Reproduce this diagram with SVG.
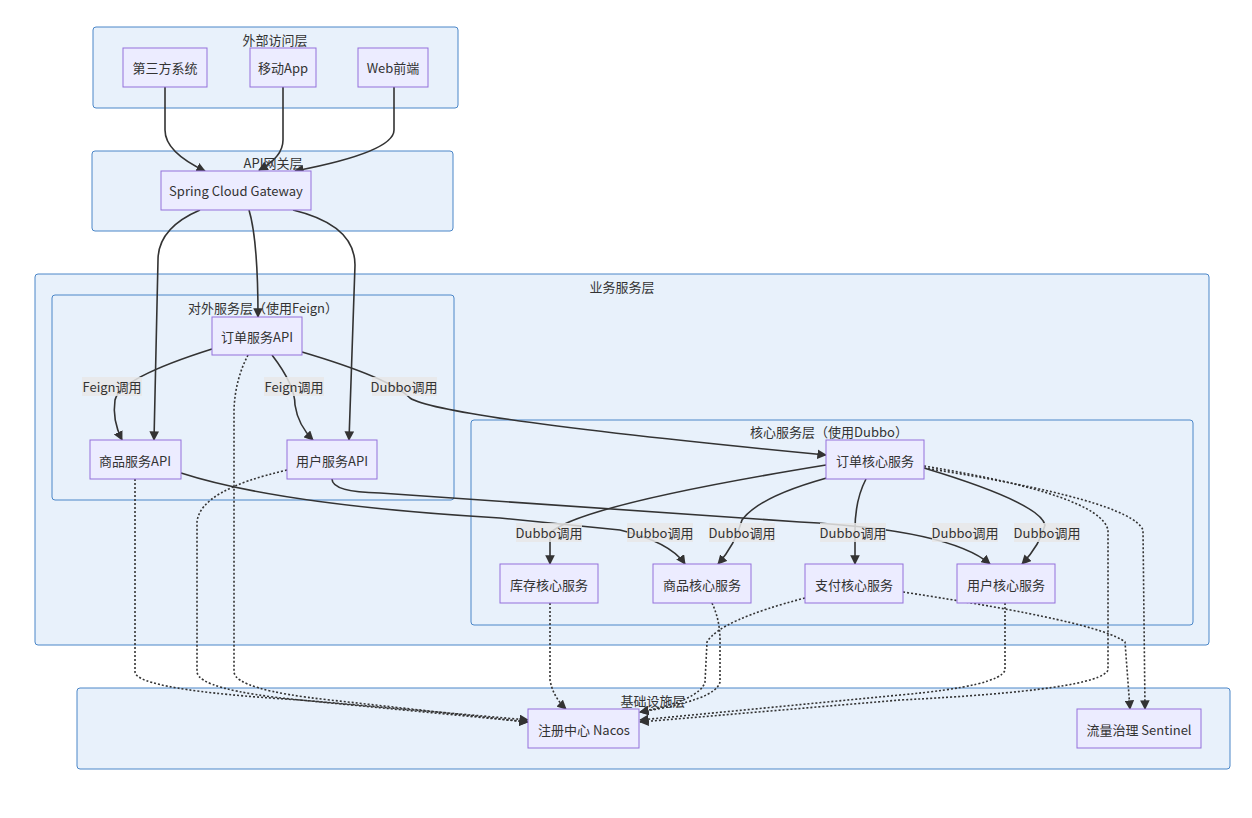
<svg xmlns="http://www.w3.org/2000/svg" width="1252" height="818" viewBox="0 0 1252 818">
<style>
.c{fill:#e8f1fb;stroke:#4a86c8;stroke-width:1}
.n{fill:#ececff;stroke:#9370db;stroke-width:1}
text{font-family:"Noto Sans CJK SC","Liberation Sans",sans-serif;font-size:13px;fill:#333;text-anchor:middle;dominant-baseline:central}
.e{fill:none;stroke:#333;stroke-width:1.6;marker-end:url(#a)}
.d{fill:none;stroke:#333;stroke-width:1.6;stroke-dasharray:2 2;marker-end:url(#a)}
.lb{fill:#e8e8e8;opacity:0.85}
</style>
<defs><marker id="a" viewBox="0 0 10 10" refX="9" refY="5" markerWidth="6" markerHeight="6" orient="auto"><path d="M0,0L10,5L0,10z" fill="#333"/></marker></defs>
<rect width="1252" height="818" fill="#fff"/>
<g id="clusters">
<rect class="c" x="93" y="27" width="365" height="81" rx="3"/><text x="275" y="39">外部访问层</text>
<rect class="c" x="92" y="151" width="361" height="80" rx="3"/><text x="273" y="162">API网关层</text>
<rect class="c" x="35" y="274" width="1174" height="371" rx="3"/><text x="622" y="286">业务服务层</text>
<rect class="c" x="52" y="295" width="402" height="205" rx="3"/><text x="263" y="307">对外服务层（使用Feign）</text>
<rect class="c" x="471" y="420" width="722" height="205" rx="3"/><text x="829" y="431">核心服务层（使用Dubbo）</text>
<rect class="c" x="77" y="688" width="1153" height="81" rx="3"/><text x="653" y="700">基础设施层</text>
</g>
<g id="connectors">
<path class="e" d="M165,87 L165,130 Q165,152 205,171"/>
<path class="e" d="M283,87 L283,140 Q283,157 259,170"/>
<path class="e" d="M394,87 L394,130 Q394,152 295,171"/>
<path class="e" d="M200,210 Q158,228 158,260 L154,440"/>
<path class="e" d="M249,210 Q258,240 258,317"/>
<path class="e" d="M293,210 Q355,225 355,265 L349,440"/>
<path class="e" d="M212,349 Q120,378 115,400 Q112,420 122,440"/>
<path class="e" d="M272,355 Q295,385 295,405 Q298,425 313,440"/>
<path class="e" d="M302,352 Q390,378 410,398 Q440,418 826,455"/>
<path class="e" d="M181,473 Q280,505 500,518 L620,530 Q670,542 685,564"/>
<path class="e" d="M332,479 Q332,492 380,493 L800,522 Q950,530 990,564"/>
<path class="e" d="M826,465 Q580,505 550,533 L550,564"/>
<path class="e" d="M838,475 Q760,495 742,520 Q735,545 718,564"/>
<path class="e" d="M866,479 Q855,500 855,530 L855,564"/>
<path class="e" d="M924,468 Q1040,503 1045,525 Q1040,545 1022,564"/>
<path class="d" d="M135,479 L135,672 Q137,690 300,700 L528,720"/>
<path class="d" d="M287,470 Q200,490 197,522 L197,672 Q199,690 300,700 L528,722"/>
<path class="d" d="M248,355 Q235,380 234,410 L234,672 Q236,690 330,700 L528,722"/>
<path class="d" d="M550,603 L550,680 Q553,697 566,709"/>
<path class="d" d="M712,603 Q720,620 720,640 L720,682 Q716,700 640,712"/>
<path class="d" d="M805,598 Q720,620 707,642 L705,682 Q700,700 640,712"/>
<path class="d" d="M1005,603 L1005,670 Q1000,686 900,695 L640,720"/>
<path class="d" d="M924,466 Q1100,495 1108,530 L1108,670 Q1100,690 900,700 L640,722"/>
<path class="d" d="M924,468 Q1130,500 1143,530 L1145,709"/>
<path class="d" d="M903,592 Q1100,622 1125,642 L1130,709"/>
</g>
<g id="labels">
<rect class="lb" x="82" y="377" width="60" height="19"/><text x="112" y="386">Feign调用</text>
<rect class="lb" x="264" y="377" width="60" height="19"/><text x="294" y="386">Feign调用</text>
<rect class="lb" x="372" y="377" width="65" height="19"/><text x="404" y="386">Dubbo调用</text>
<rect class="lb" x="516" y="523" width="66" height="19"/><text x="549" y="532">Dubbo调用</text>
<rect class="lb" x="627" y="523" width="66" height="19"/><text x="660" y="532">Dubbo调用</text>
<rect class="lb" x="709" y="523" width="66" height="19"/><text x="742" y="532">Dubbo调用</text>
<rect class="lb" x="820" y="523" width="66" height="19"/><text x="853" y="532">Dubbo调用</text>
<rect class="lb" x="932" y="523" width="66" height="19"/><text x="965" y="532">Dubbo调用</text>
<rect class="lb" x="1014" y="523" width="66" height="19"/><text x="1047" y="532">Dubbo调用</text>
</g>
<g id="n1"><rect class="n" x="123" y="48" width="84" height="39"/><text x="165" y="67">第三方系统</text></g>
<g id="n2"><rect class="n" x="250" y="48" width="66" height="39"/><text x="283" y="67">移动App</text></g>
<g id="n3"><rect class="n" x="358" y="48" width="70" height="39"/><text x="393" y="67">Web前端</text></g>
<g id="n4"><rect class="n" x="161" y="171" width="150" height="39"/><text x="236" y="190">Spring Cloud Gateway</text></g>
<g id="n5"><rect class="n" x="212" y="317" width="90" height="38"/><text x="257" y="336">订单服务API</text></g>
<g id="n6"><rect class="n" x="90" y="440" width="91" height="39"/><text x="135" y="460">商品服务API</text></g>
<g id="n7"><rect class="n" x="287" y="440" width="90" height="39"/><text x="332" y="460">用户服务API</text></g>
<g id="n8"><rect class="n" x="826" y="440" width="98" height="39"/><text x="875" y="460">订单核心服务</text></g>
<g id="n9"><rect class="n" x="500" y="564" width="98" height="39"/><text x="549" y="584">库存核心服务</text></g>
<g id="n10"><rect class="n" x="653" y="564" width="98" height="39"/><text x="702" y="584">商品核心服务</text></g>
<g id="n11"><rect class="n" x="805" y="564" width="98" height="39"/><text x="854" y="584">支付核心服务</text></g>
<g id="n12"><rect class="n" x="957" y="564" width="98" height="39"/><text x="1006" y="584">用户核心服务</text></g>
<g id="n13"><rect class="n" x="528" y="709" width="111" height="39"/><text x="584" y="729">注册中心 Nacos</text></g>
<g id="n14"><rect class="n" x="1077" y="709" width="124" height="39"/><text x="1139" y="729">流量治理 Sentinel</text></g>
</svg>
